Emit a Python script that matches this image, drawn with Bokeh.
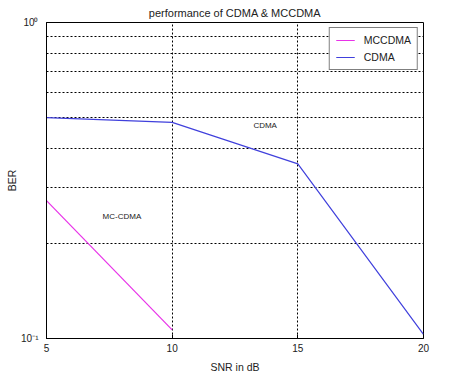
from bokeh.plotting import figure
from bokeh.models import FixedTicker, Label, Legend, LegendItem
from bokeh.embed import file_html
from bokeh.resources import INLINE

snr_mc = [5, 10]
ber_mc = [0.273, 0.1065]
snr_cdma = [5, 10, 15, 20]
ber_cdma = [0.50, 0.483, 0.357, 0.103]
x_ticks = [5, 10, 15, 20]
y_ticks = [0.1, 1]
y_minor = [0.2, 0.3, 0.4, 0.5, 0.6, 0.7, 0.8, 0.9]
y_labels = {0.1: "10\u207b\u00b9", 1: "10\u2070"}

FONT = "Liberation Sans"

p = figure(width=474, height=383, y_axis_type="log", x_range=(5, 20), y_range=(0.1, 1),
           output_backend="svg", toolbar_location=None,
           min_border_left=46, min_border_right=51, min_border_top=22, min_border_bottom=45,
           title="performance of CDMA & MCCDMA")
p.title.align = "center"
p.title.text_font = FONT
p.title.text_font_size = "11px"
p.title.text_font_style = "normal"
p.title.text_color = "#222222"
p.title.standoff = 8
p.title.offset = 0

p.outline_line_color = "black"
p.outline_line_width = 1
p.outline_line_alpha = 1

p.xaxis.ticker = FixedTicker(ticks=x_ticks)
p.yaxis.ticker = FixedTicker(ticks=y_ticks, minor_ticks=y_minor)
p.yaxis.major_label_overrides = y_labels
for ax in (p.xaxis, p.yaxis):
    ax.major_tick_in = 4
    ax.major_tick_out = 0
    ax.minor_tick_line_color = None
    ax.axis_line_color = "black"
    ax.major_label_text_font = FONT
    ax.major_label_text_font_size = "10px"
    ax.major_label_text_color = "#222222"
    ax.axis_label_text_font = FONT
    ax.axis_label_text_font_size = "10.5px"
    ax.axis_label_text_font_style = "normal"
    ax.axis_label_text_color = "#222222"
p.xaxis.axis_label = "SNR in dB"
p.yaxis.axis_label = "BER"
p.xaxis.major_label_standoff = 5
p.xaxis.axis_label_standoff = 6
p.yaxis.major_label_standoff = 4
p.yaxis.axis_label_standoff = 0

p.xgrid.grid_line_color = "black"
p.xgrid.grid_line_dash = "2 2"
p.ygrid.grid_line_color = None
p.ygrid.minor_grid_line_color = "black"
p.ygrid.minor_grid_line_dash = "2 2"

r1 = p.line(snr_mc, ber_mc, line_color="#e832e8", line_width=1.2)
r2 = p.line(snr_cdma, ber_cdma, line_color="#4040dc", line_width=1.2)

p.add_layout(Label(x=13.7, y=0.472, text="CDMA", text_font=FONT, text_font_size="8px",
                   text_color="#222222", text_align="center", text_baseline="middle"))
p.add_layout(Label(x=8.0, y=0.243, text="MC-CDMA", text_font=FONT, text_font_size="8px",
                   text_color="#222222", text_align="center", text_baseline="middle"))

legend = Legend(items=[LegendItem(label="MCCDMA", renderers=[r1]),
                       LegendItem(label="CDMA", renderers=[r2])],
                location="top_right")
legend.border_line_color = "black"
legend.border_line_width = 1
legend.background_fill_alpha = 1
legend.label_text_font = FONT
legend.label_text_font_size = "10.5px"
legend.label_text_color = "#222222"
legend.label_height = 10
legend.glyph_height = 10
legend.glyph_width = 19
legend.label_standoff = 9
legend.spacing = 5
legend.padding = 6
legend.margin = 5
p.add_layout(legend)

open("out.html", "w").write(file_html(p, INLINE))
